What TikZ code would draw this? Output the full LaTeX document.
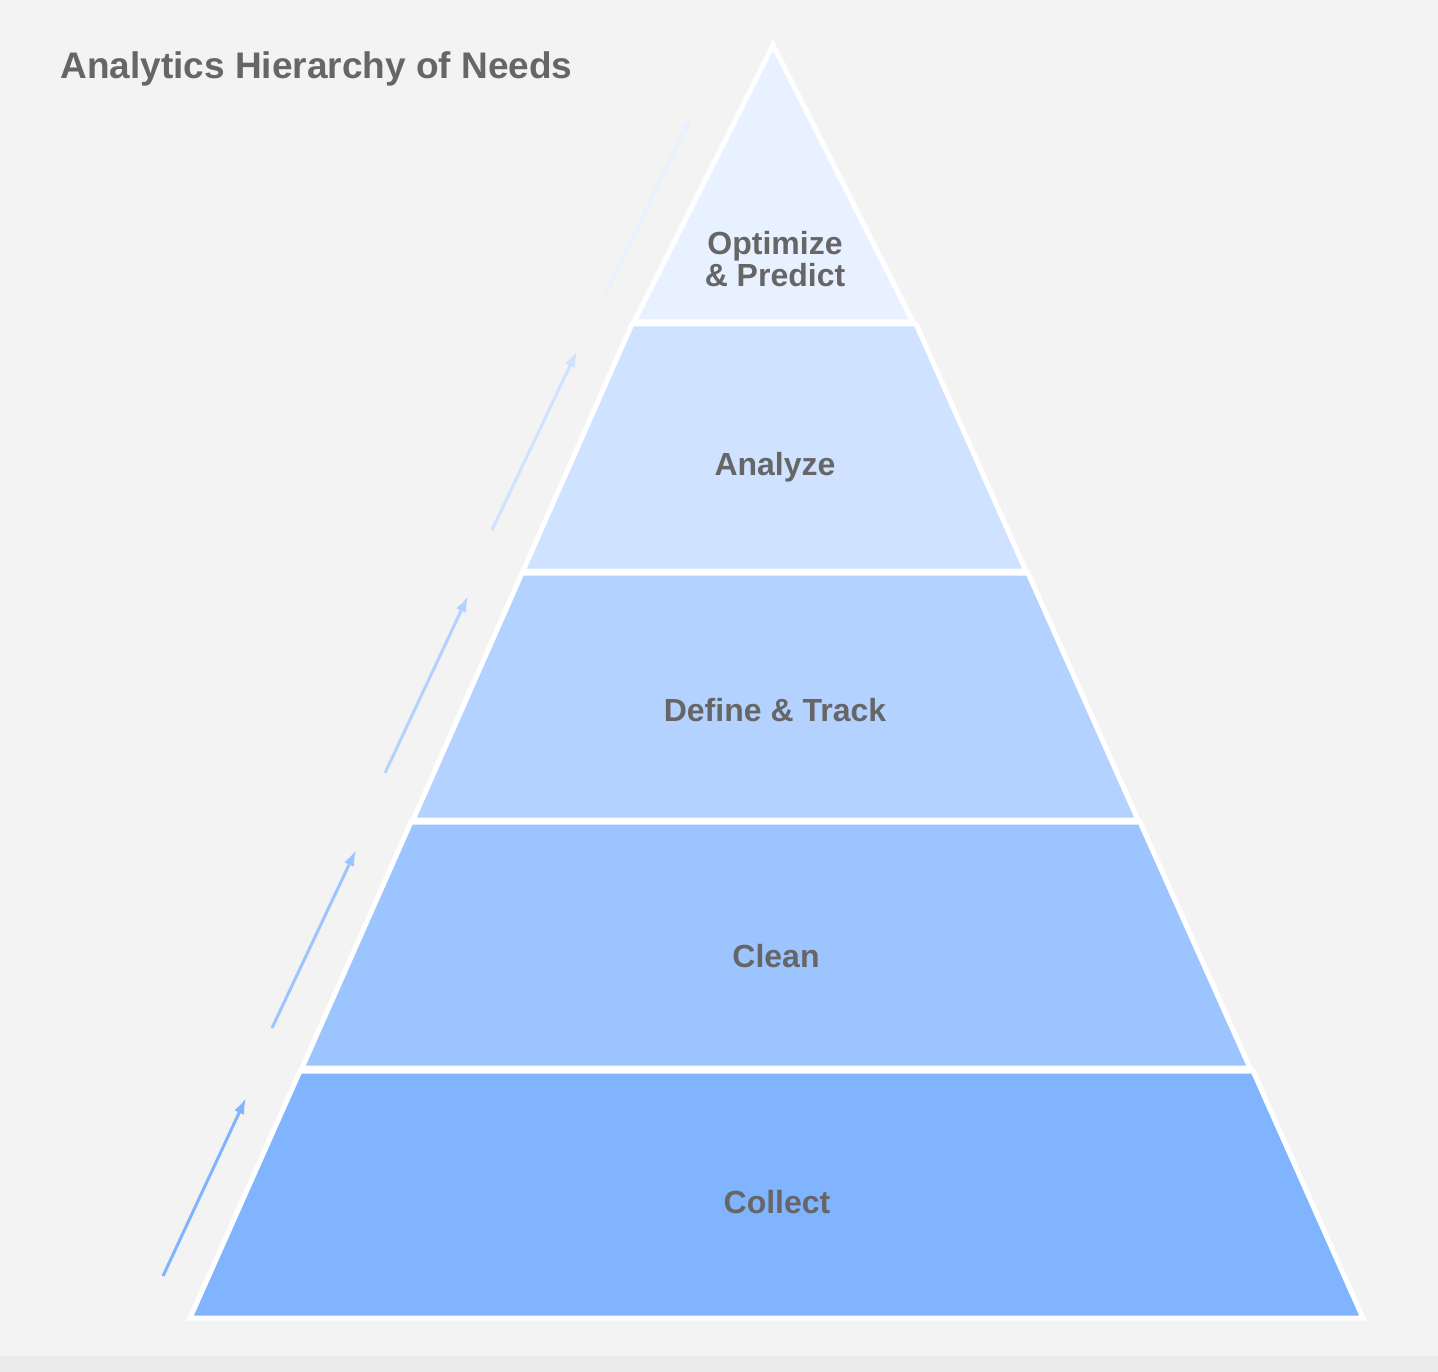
\documentclass[tikz,border=0pt]{standalone}
\usepackage{fontspec}
\setmainfont{Liberation Sans}
\begin{document}
\begin{tikzpicture}[x=1pt,y=-1pt,
  tier/.style={draw=white,line width=5pt,line join=miter},
  lab/.style={font=\bfseries\fontsize{32}{38}\selectfont,text=txt,align=center},
  up/.style={line width=3pt,-{Latex[length=16pt,width=11pt]}}]
\usetikzlibrary{arrows.meta}
\definecolor{bg}{HTML}{F3F3F3}
\definecolor{txt}{HTML}{666666}
\definecolor{c1}{HTML}{80B4FF}
\definecolor{c2}{HTML}{9CC4FF}
\definecolor{c3}{HTML}{B4D2FF}
\definecolor{c4}{HTML}{CFE2FF}
\definecolor{c5}{HTML}{E8F1FF}
\fill[bg] (0,0) rectangle (1438,1372);
\fill[black!8] (0,1356) rectangle (1438,1372);
\useasboundingbox (0,0) rectangle (1438,1372);
\node[anchor=base west,font=\bfseries\fontsize{37}{44}\selectfont,text=txt] (title) at (57,79) {Analytics Hierarchy of Needs};
\draw[tier,fill=c1] (190,1318) -- (300,1071) -- (1253,1071) -- (1363,1318) -- cycle;
\draw[tier,fill=c2] (302,1068) -- (411,822) -- (1140,822) -- (1250,1068) -- cycle;
\draw[tier,fill=c3] (413,820) -- (522,573) -- (1028,573) -- (1138,820) -- cycle;
\draw[tier,fill=c4] (523,571) -- (632,324) -- (916,324) -- (1026,571) -- cycle;
\draw[tier,fill=c5] (634,322) -- (773,45) -- (913,322) -- cycle;
\node[lab] (t5) at (775,259) {Optimize\\[-6pt]\& Predict};
\node[lab] (t4) at (775,467) {Analyze};
\node[lab] (t3) at (775,710) {Define \& Track};
\node[lab] (t2) at (776,956) {Clean};
\node[lab] (t1) at (777,1202) {Collect};
\coordinate (a1) at (163,1276); \coordinate (b1) at (246,1098);
\coordinate (a2) at (272,1028); \coordinate (b2) at (356,850);
\coordinate (a3) at (385,773); \coordinate (b3) at (468,596);
\coordinate (a4) at (492,530); \coordinate (b4) at (577,351);
\coordinate (a5) at (606,294); \coordinate (b5) at (691,116);
\draw[up,c1] (a1) -- (b1);
\draw[up,c2] (a2) -- (b2);
\draw[up,c3] (a3) -- (b3);
\draw[up,c4] (a4) -- (b4);
\draw[up,c5] (a5) -- (b5);
\end{tikzpicture}
\end{document}
